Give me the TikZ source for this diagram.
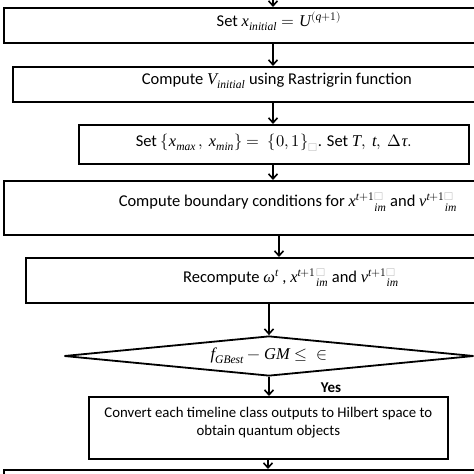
\documentclass[tikz,border=0pt]{standalone}
\usepackage{amsmath}
\usepackage{fontspec}
\usepackage{unicode-math}
\setmainfont{Carlito}
\setmathfont{Latin Modern Math}
\setmathfont[range=it]{Liberation Serif Italic}
\usetikzlibrary{shapes.geometric,arrows.meta}
\newcommand{\emptyglyph}{{\color{gray!60}\mdlgwhtsquare}}

\begin{document}
\begin{tikzpicture}[x=1pt, y=-1pt,
	every node/.style={font=\fontsize{16.5}{19}\selectfont},
	box/.style={draw, line width=1.8pt, rectangle, inner sep=0pt, anchor=north west},
	dec/.style={draw, line width=1.8pt, diamond, aspect=9, inner sep=0pt},
	arr/.style={-{Straight Barb[length=5pt,width=9pt]}, line width=1.6pt}]

		\useasboundingbox (0,0) rectangle (474,474);
		\clip (0,0) rectangle (474,474);

		% boxes, top to bottom
		\node[box, minimum width=550, minimum height=35, text depth=12pt] (init) at (3,7) {Set $x_{initial} = U^{(q+1)}$};
		\node[box, minimum width=528, minimum height=35, text depth=12pt] (vinit) at (12,66) {Compute $V_{initial}$ using Rastrigrin function};
		\node[box, minimum width=390, minimum height=39, text depth=9pt] (bounds) at (78,124) {Set $\{x_{max}\,,\, x_{min}\} = \ \{0,1\}_{\emptyglyph}$. Set $T,\ t,\ \Delta\tau.$};
		\node[box, minimum width=568, minimum height=54, text depth=16pt] (bc) at (3,180) {Compute boundary conditions for $x^{t+1}{}^{\emptyglyph}_{im}$ and $v^{t+1}{}^{\emptyglyph}_{im}$};
		\node[box, minimum width=530, minimum height=45, text depth=10pt] (rec) at (25,257) {Recompute $\omega^t$ , $x^{t+1}{}^{\emptyglyph}_{im}$ and $v^{t+1}{}^{\emptyglyph}_{im}$};
		\node[dec, minimum width=410, minimum height=40] (test) at (269,356) {$f_{GBest} - GM \le \; {\in}$};
		\node[box, minimum width=359, minimum height=62, align=center, font=\fontsize{14.8}{18}\selectfont, text depth=14pt] (conv) at (88,396) {Convert each timeline class outputs to Hilbert space to\\obtain quantum objects};
		\node[box, minimum width=560, minimum height=60] (next) at (3,469) {};
		\node[font=\fontsize{15}{16}\selectfont\bfseries] (yes) at (331,388) {Yes};

		% arrows
		\coordinate (top) at (273,-5);
		\coordinate (ax) at (273,0);
		\coordinate (ax2) at (279,0);
		\coordinate (ax3) at (268,0);
		\draw[arr] (top) -- (init.north -| ax);
		\draw[arr] (init.south -| ax) -- (vinit.north -| ax);
		\draw[arr] (vinit.south -| ax) -- (bounds.north -| ax);
		\draw[arr] (bounds.south -| ax) -- (bc.north -| ax);
		\draw[arr] (bc.south -| ax2) -- (rec.north -| ax2);
		\draw[arr] (rec.south -| test.north) -- (test.north);
		\draw[arr] (test.south) -- (conv.north -| test.south);
		\draw[arr] (conv.south -| ax3) -- (next.north -| ax3);

\end{tikzpicture}
\end{document}
